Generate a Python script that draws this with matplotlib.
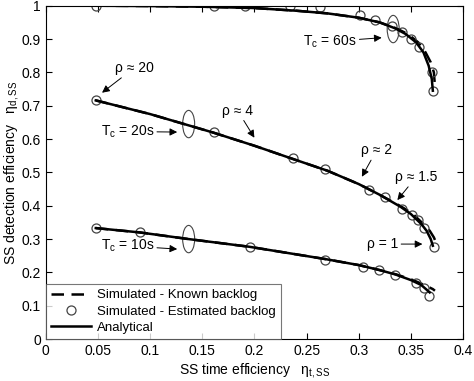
import numpy as np
import matplotlib
matplotlib.use('Agg')
import matplotlib.pyplot as plt
from matplotlib.patches import Ellipse

plt.rcParams['font.family'] = ['Liberation Sans', 'DejaVu Sans']
plt.rcParams['font.size'] = 10

# analytical curves
ana60_x = [0.048, 0.10, 0.15, 0.20, 0.24, 0.27, 0.30, 0.32, 0.335, 0.345, 0.355, 0.362, 0.367, 0.370, 0.371]
ana60_y = [1.0, 0.999, 0.997, 0.993, 0.985, 0.977, 0.964, 0.950, 0.932, 0.915, 0.890, 0.860, 0.82, 0.78, 0.745]
ana20_x = [0.048, 0.10, 0.16, 0.20, 0.24, 0.27, 0.30, 0.32, 0.34, 0.35, 0.36, 0.365, 0.369, 0.371]
ana20_y = [0.716, 0.675, 0.62, 0.58, 0.537, 0.505, 0.465, 0.433, 0.397, 0.375, 0.345, 0.325, 0.30, 0.28]
ana10_x = [0.048, 0.09, 0.137, 0.195, 0.268, 0.30, 0.32, 0.335, 0.35, 0.36, 0.368]
ana10_y = [0.333, 0.32, 0.30, 0.277, 0.24, 0.222, 0.207, 0.194, 0.177, 0.162, 0.14]

# simulated - known backlog
kn60_x = [0.048, 0.10, 0.15, 0.20, 0.24, 0.27, 0.30, 0.32, 0.336, 0.347, 0.357, 0.364, 0.369, 0.372, 0.373]
kn60_y = [1.0, 0.999, 0.997, 0.993, 0.985, 0.977, 0.964, 0.950, 0.932, 0.915, 0.890, 0.860, 0.83, 0.80, 0.76]
kn20_x = [0.048, 0.10, 0.16, 0.20, 0.24, 0.27, 0.30, 0.32, 0.341, 0.352, 0.362, 0.368, 0.372, 0.374]
kn20_y = [0.716, 0.675, 0.62, 0.58, 0.537, 0.505, 0.465, 0.433, 0.397, 0.375, 0.345, 0.325, 0.305, 0.29]
kn10_x = [0.048, 0.09, 0.137, 0.195, 0.268, 0.30, 0.32, 0.336, 0.352, 0.363, 0.371, 0.373]
kn10_y = [0.333, 0.32, 0.30, 0.277, 0.24, 0.222, 0.207, 0.194, 0.177, 0.162, 0.15, 0.145]

# simulated - estimated backlog
est60_x = [0.048, 0.161, 0.191, 0.234, 0.263, 0.301, 0.316, 0.332, 0.341, 0.350, 0.358, 0.370, 0.371]
est60_y = [1.0, 1.0, 0.999, 0.998, 0.995, 0.973, 0.958, 0.938, 0.922, 0.90, 0.875, 0.80, 0.745]
est20_x = [0.048, 0.161, 0.237, 0.268, 0.310, 0.325, 0.341, 0.351, 0.357, 0.363, 0.372]
est20_y = [0.718, 0.62, 0.543, 0.51, 0.447, 0.426, 0.39, 0.372, 0.357, 0.333, 0.277]
est10_x = [0.048, 0.090, 0.196, 0.268, 0.304, 0.319, 0.335, 0.355, 0.363, 0.367]
est10_y = [0.333, 0.32, 0.277, 0.237, 0.217, 0.207, 0.192, 0.167, 0.152, 0.129]

fig = plt.figure(figsize=(4.74, 3.81), dpi=100)
ax = fig.add_axes([0.0964, 0.110, 0.8806, 0.875])

ax.plot(kn60_x, kn60_y, 'k--', lw=1.8, dashes=(5, 3), label='Simulated - Known backlog')
ax.plot(kn20_x, kn20_y, 'k--', lw=1.8, dashes=(5, 3))
ax.plot(kn10_x, kn10_y, 'k--', lw=1.8, dashes=(5, 3))
ax.plot(est60_x, est60_y, 'o', mfc='none', mec='#444444', ms=6.5, mew=0.9, label='Simulated - Estimated backlog')
ax.plot(est20_x, est20_y, 'o', mfc='none', mec='#444444', ms=6.5, mew=0.9)
ax.plot(est10_x, est10_y, 'o', mfc='none', mec='#444444', ms=6.5, mew=0.9)
ax.plot(ana60_x, ana60_y, 'k-', lw=1.8, label='Analytical')
ax.plot(ana20_x, ana20_y, 'k-', lw=1.8)
ax.plot(ana10_x, ana10_y, 'k-', lw=1.8)

# ellipses marking the T_c curves
for cx, cy in [(0.137, 0.30), (0.137, 0.645), (0.333, 0.93)]:
    ax.add_patch(Ellipse((cx, cy), 0.0115, 0.082, fill=False, ec='#444444', lw=0.8))

ap = dict(arrowstyle='-|>', color='k', lw=0.7, mutation_scale=11, shrinkA=0, shrinkB=0)
ax.annotate('ρ ≈ 20', xy=(0.054, 0.739), xytext=(0.066, 0.792), arrowprops=ap, ha='left', va='bottom')
ax.annotate('T$_\\mathregular{c}$ = 20s', xy=(0.126, 0.621), xytext=(0.104, 0.598), arrowprops=ap, ha='right', va='bottom')
ax.annotate('ρ ≈ 4', xy=(0.200, 0.604), xytext=(0.184, 0.664), arrowprops=ap, ha='center', va='bottom')
ax.annotate('T$_\\mathregular{c}$ = 60s', xy=(0.322, 0.904), xytext=(0.298, 0.868), arrowprops=ap, ha='right', va='bottom')
ax.annotate('ρ ≈ 2', xy=(0.303, 0.487), xytext=(0.317, 0.545), arrowprops=ap, ha='center', va='bottom')
ax.annotate('ρ ≈ 1.5', xy=(0.337, 0.417), xytext=(0.355, 0.465), arrowprops=ap, ha='center', va='bottom')
ax.annotate('ρ = 1', xy=(0.361, 0.285), xytext=(0.338, 0.285), arrowprops=ap, ha='right', va='center')
ax.annotate('T$_\\mathregular{c}$ = 10s', xy=(0.126, 0.27), xytext=(0.104, 0.255), arrowprops=ap, ha='right', va='bottom')

ax.set_xlim(0, 0.4)
ax.set_ylim(0, 1)
ax.set_xticks(np.arange(0, 0.41, 0.05))
ax.set_xticklabels(['0', '0.05', '0.1', '0.15', '0.2', '0.25', '0.3', '0.35', '0.4'])
ax.set_yticks(np.arange(0, 1.01, 0.1))
ax.set_yticklabels(['0', '0.1', '0.2', '0.3', '0.4', '0.5', '0.6', '0.7', '0.8', '0.9', '1'])
ax.tick_params(direction='in', top=True, right=True, length=4, width=0.8)
for s in ax.spines.values():
    s.set_linewidth(0.8)
ax.set_xlabel('SS time efficiency   η$_\\mathregular{t,SS}$', labelpad=2)
ax.set_ylabel('SS detection efficiency   η$_\\mathregular{d,SS}$')
ax.yaxis.set_label_coords(-0.06, 0.5)

leg = ax.legend(loc='lower left', borderaxespad=0, frameon=True, fancybox=False,
                edgecolor='#555555', handlelength=3.0, labelspacing=0.3, borderpad=0.4,
                handletextpad=0.5, fontsize=9.5)
leg.get_frame().set_linewidth(0.8)

fig.savefig('out.png', dpi=100)
